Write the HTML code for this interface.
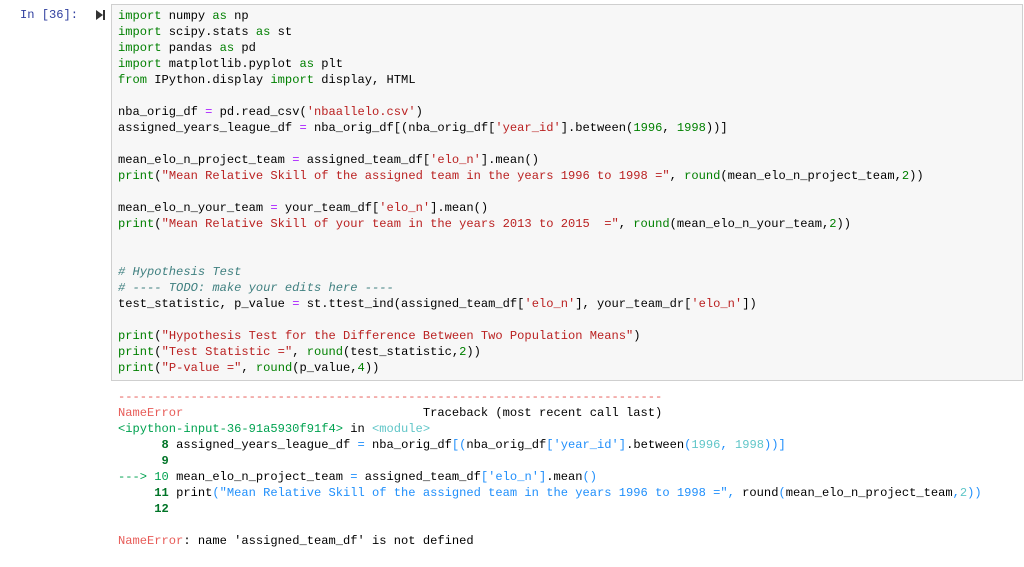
<!DOCTYPE html>
<html><head><meta charset="utf-8"><style>
html,body{margin:0;padding:0;background:#fff;width:1024px;height:567px;overflow:hidden}
body{position:relative;font-family:"Liberation Mono",monospace;font-size:12.1px}
.prompt{position:absolute;left:20px;top:7px;color:#303f9f;line-height:16px;font-size:12.1px}
.run{position:absolute;left:96px;top:10px;width:0;height:0;border-top:5px solid transparent;border-bottom:5px solid transparent;border-left:7px solid #333}
.runbar{position:absolute;left:103px;top:10px;width:2px;height:10px;background:#333}
.cell{position:absolute;left:111px;top:4px;width:912px;height:377px;background:#f7f7f7;border:1px solid #cfcfcf;box-sizing:border-box}
pre{margin:0;position:absolute;left:118px;font-family:"Liberation Mono",monospace;font-size:12.1px;line-height:16px;color:#000;white-space:pre}
.k{color:#008000}
.s{color:#ba2121}
.o{color:#aa22ff}
.n{color:#008000}
.c{color:#408080;font-style:italic}
.r{color:#e75c58}
.g{color:#00a250}
.gb{color:#007427;font-weight:bold}
.cy{color:#60c6c8}
.b{color:#208ffb}
</style></head><body>
<div class="prompt">In [36]:</div>
<div class="run"></div><div class="runbar"></div>
<div class="cell"></div>
<pre style="top:8px"><span class="k">import</span> numpy <span class="k">as</span> np
<span class="k">import</span> scipy.stats <span class="k">as</span> st
<span class="k">import</span> pandas <span class="k">as</span> pd
<span class="k">import</span> matplotlib.pyplot <span class="k">as</span> plt
<span class="k">from</span> IPython.display <span class="k">import</span> display, HTML

nba_orig_df <span class="o">=</span> pd.read_csv(<span class="s">'nbaallelo.csv'</span>)
assigned_years_league_df <span class="o">=</span> nba_orig_df[(nba_orig_df[<span class="s">'year_id'</span>].between(<span class="n">1996</span>, <span class="n">1998</span>))]

mean_elo_n_project_team <span class="o">=</span> assigned_team_df[<span class="s">'elo_n'</span>].mean()
<span class="k">print</span>(<span class="s">"Mean Relative Skill of the assigned team in the years 1996 to 1998 ="</span>, <span class="k">round</span>(mean_elo_n_project_team,<span class="n">2</span>))

mean_elo_n_your_team <span class="o">=</span> your_team_df[<span class="s">'elo_n'</span>].mean()
<span class="k">print</span>(<span class="s">"Mean Relative Skill of your team in the years 2013 to 2015  ="</span>, <span class="k">round</span>(mean_elo_n_your_team,<span class="n">2</span>))


<span class="c"># Hypothesis Test</span>
<span class="c"># ---- TODO: make your edits here ----</span>
test_statistic, p_value <span class="o">=</span> st.ttest_ind(assigned_team_df[<span class="s">'elo_n'</span>], your_team_dr[<span class="s">'elo_n'</span>])

<span class="k">print</span>(<span class="s">"Hypothesis Test for the Difference Between Two Population Means"</span>)
<span class="k">print</span>(<span class="s">"Test Statistic ="</span>, <span class="k">round</span>(test_statistic,<span class="n">2</span>))
<span class="k">print</span>(<span class="s">"P-value ="</span>, <span class="k">round</span>(p_value,<span class="n">4</span>))</pre>
<pre style="top:389px"><span class="r">---------------------------------------------------------------------------</span>
<span class="r">NameError</span>                                 Traceback (most recent call last)
<span class="g">&lt;ipython-input-36-91a5930f91f4&gt;</span> in <span class="cy">&lt;module&gt;</span>
<span class="gb">      8</span> assigned_years_league_df <span class="b">=</span> nba_orig_df<span class="b">[(</span>nba_orig_df<span class="b">['year_id']</span>.between<span class="b">(</span><span class="cy">1996</span><span class="b">,</span> <span class="cy">1998</span><span class="b">))]</span>
<span class="gb">      9</span>
<span class="g">---&gt; 10</span> mean_elo_n_project_team <span class="b">=</span> assigned_team_df<span class="b">['elo_n']</span>.mean<span class="b">()</span>
<span class="gb">     11</span> print<span class="b">("Mean Relative Skill of the assigned team in the years 1996 to 1998 =",</span> round<span class="b">(</span>mean_elo_n_project_team<span class="b">,</span><span class="cy">2</span><span class="b">))</span>
<span class="gb">     12</span>

<span class="r">NameError</span>: name 'assigned_team_df' is not defined</pre>
</body></html>
